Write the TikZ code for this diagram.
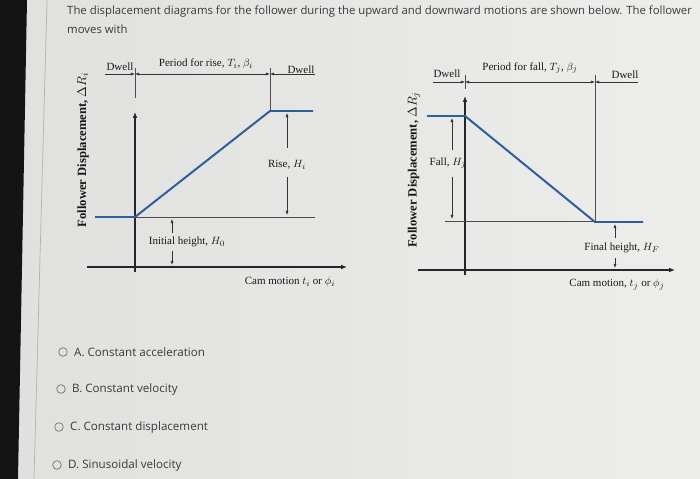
\documentclass[tikz,border=0pt]{standalone}
\usepackage{fontspec}
\setmainfont{Liberation Serif}
\newfontfamily\uifont{Open Sans}
\usetikzlibrary{arrows.meta}

\definecolor{paper}{HTML}{E0E0DE}
\definecolor{paperlight}{HTML}{EDEDEB}
\definecolor{curveblue}{HTML}{2E5F9C}
\definecolor{inkgray}{HTML}{3A3A3A}

\tikzset{
  axis/.style={line width=1.3pt, draw=black!85},
  guide/.style={line width=0.5pt, draw=black!70},
  motion/.style={line width=1.7pt, draw=curveblue},
  dim/.style={line width=0.5pt, draw=black!80, -{Latex[length=3.5pt,width=2.6pt]}},
  lbl/.style={font=\fontsize{9.4}{11}\selectfont, text=black!90, inner sep=0.5pt},
  ylbl/.style={lbl, font=\bfseries\fontsize{10.8}{12}\selectfont, rotate=90},
  ui/.style={font=\uifont\fontsize{9.7}{11}\selectfont, text=inkgray, anchor=west, inner sep=0pt},
  choice/.style={font=\uifont\fontsize{9.9}{12}\selectfont, text=inkgray, anchor=west, inner sep=0pt},
}

\begin{document}
\begin{tikzpicture}[x=0.03cm, y=-0.03cm]
  % page and bezel
  \useasboundingbox (0,0) rectangle (700,479);
  \shade[left color=paper, right color=paperlight] (0,0) rectangle (700,479);
  \fill[black!92] (0,0) -- (27,0) -- (18,479) -- (0,479) -- cycle;
  \draw[black!30, line width=0.6pt] (47,0) -- (34,479);

  % question
  \node[ui] (q1) at (67,12) {The displacement diagrams for the follower during the upward and downward motions are shown below. The follower};
  \node[ui] (q2) at (67,29) {moves with};

  % ---- rise diagram ----
  \coordinate (ri0) at (135,267);
  \coordinate (riTop) at (270,111);
  \draw[axis, -{Latex[length=5pt,width=4pt]}] (135,272) -- (135,112);
  \draw[axis, -{Latex[length=5pt,width=4pt]}] (87,267) -- (347,267);
  \draw[guide] (135,217) -- (315,217);
  \draw[motion] (95,217) -- (135,217) -- (riTop) -- (313,111);
  \draw[guide] (135,68) -- (135,98)
               (270,68) -- (riTop);
  \node[lbl] (riDwellA) at (120,67) {Dwell};
  \node[lbl] (riPeriod) at (206,64) {Period for rise, $T_i$, $\beta_i$};
  \node[lbl] (riDwellB) at (301,70) {Dwell};
  \draw[dim] (105,74) -- (135,74);
  \draw[dim, {Latex[length=3.5pt,width=2.6pt]}-{Latex[length=3.5pt,width=2.6pt]}] (135,74) -- (270,74);
  \draw[dim] (315,74) -- (270,74);
  \node[lbl] (rise) at (287,165) {Rise, $H_i$};
  \draw[dim] (287,148) -- (287,113);
  \draw[dim] (287,177) -- (287,215);
  \node[lbl] (initial) at (187,242) {Initial height, $H_0$};
  \draw[dim] (172,233) -- (172,219);
  \draw[dim] (172,251) -- (172,265);
  \node[ylbl] (riAxis) at (83,150) {Follower Displacement, $\Delta R_i$};
  \node[lbl] (riCam) at (290,282) {Cam motion $t_i$ or $\phi_i$};

  % ---- fall diagram ----
  \coordinate (fa0) at (465,270);
  \coordinate (faLow) at (595,222);
  \draw[axis, -{Latex[length=5pt,width=4pt]}] (465,275) -- (465,96);
  \draw[axis, -{Latex[length=5pt,width=4pt]}] (418,270) -- (675,270);
  \draw[guide] (445,221) -- (595,221);
  \draw[motion] (427,116) -- (465,116) -- (faLow) -- (643,222);
  \draw[guide] (465,75) -- (465,89)
               (595,75) -- (faLow);
  \node[lbl] (faDwellA) at (447,74) {Dwell};
  \node[lbl] (faPeriod) at (530,68) {Period for fall, $T_j$, $\beta_j$};
  \node[lbl] (faDwellB) at (625,75) {Dwell};
  \draw[dim] (433,82) -- (465,82);
  \draw[dim, {Latex[length=3.5pt,width=2.6pt]}-{Latex[length=3.5pt,width=2.6pt]}] (465,82) -- (595,82);
  \draw[dim] (638,82) -- (595,82);
  \node[lbl] (fall) at (448,163) {Fall, $H_j$};
  \draw[dim] (452,150) -- (452,118);
  \draw[dim] (452,177) -- (452,219);
  \node[lbl] (final) at (622,248) {Final height, $H_F$};
  \draw[dim] (615,238) -- (615,224);
  \draw[dim] (615,258) -- (615,268);
  \node[ylbl] (faAxis) at (414,170) {Follower Displacement, $\Delta R_j$};
  \node[lbl] (faCam) at (617,285) {Cam motion, $t_j$ or $\phi_j$};

  % choices
  \foreach \y/\x/\txt [count=\i] in {352/63/A. Constant acceleration, 389/61/B. Constant velocity,
                                     427/59/C. Constant displacement, 465/57/D. Sinusoidal velocity}{
    \draw[black!55, line width=0.6pt] (\x,\y) circle (4.3);
    \node[choice] (opt\i) at (\x+11,\y) {\txt};
  }
\end{tikzpicture}
\end{document}
